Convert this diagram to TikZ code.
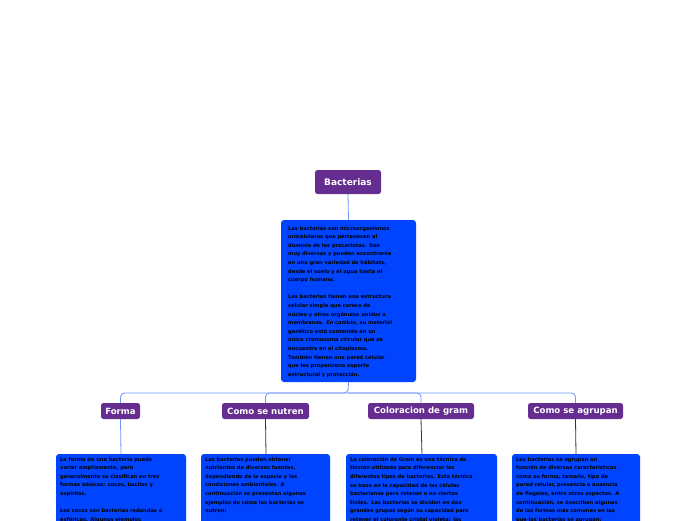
\documentclass[tikz,border=0pt]{standalone}
\usepackage{fontspec}
\setmainfont{DejaVu Sans}
\definecolor{purp}{HTML}{662D91}
\definecolor{blu}{HTML}{0044FF}
\definecolor{lline}{HTML}{6E95FF}
\begin{document}
\begin{tikzpicture}[x=1pt,y=-1pt,
  topic/.style={fill=purp,rounded corners=2.5pt,text=white,font=\bfseries\fontsize{8.6}{9}\selectfont,inner sep=0pt},
  txt/.style={fill=blu,rounded corners=3pt,font=\bfseries\fontsize{5.1}{8.6}\selectfont,align=left,anchor=north west,inner sep=0pt,text=black},
  lb/.style={draw=lline,line width=0.8pt},
  dk/.style={draw=black!80,line width=0.8pt}]
\useasboundingbox (0,0) rectangle (696,520);
\clip (0,0) rectangle (696,520);
% nodes
\node[topic,minimum width=66pt,minimum height=24pt] (root) at (348,182) {\fontsize{9}{10}\selectfont Bacterias};
\node[fill=blu,rounded corners=3pt,minimum width=135pt,minimum height=162pt,inner sep=0pt] (main) at (348.5,301) {};
\node[font=\bfseries\fontsize{5.1}{8.6}\selectfont,align=left,anchor=north west,inner sep=0pt] (maintxt) at (288,226) {Las bacterias son microorganismos\\unicelulares que pertenecen al\\dominio de los procariotas. Son\\muy diversas y pueden encontrarse\\en una gran variedad de hábitats,\\desde el suelo y el agua hasta el\\cuerpo humano.\\[8.6pt]Las bacterias tienen una estructura\\celular simple que carece de\\núcleo y otros orgánulos unidos a\\membranas. En cambio, su material\\genético está contenido en un\\único cromosoma circular que se\\encuentra en el citoplasma.\\También tienen una pared celular\\que les proporciona soporte\\estructural y protección.};
\node[topic,minimum width=39pt,minimum height=16pt] (forma) at (120.5,411) {Forma};
\node[topic,minimum width=87pt,minimum height=16pt] (nutren) at (265.5,411) {Como se nutren};
\node[topic,minimum width=106pt,minimum height=16pt] (gram) at (421,411) {Coloracion de gram};
\node[topic,minimum width=95pt,minimum height=16pt] (agrupan) at (575.5,411) {Como se agrupan};
% bottom boxes
\fill[blu,rounded corners=3pt] (56,454) rectangle (186,560);
\fill[blu,rounded corners=3pt] (201,454) rectangle (330,560);
\fill[blu,rounded corners=3pt] (346,454) rectangle (497,560);
\fill[blu,rounded corners=3pt] (512,454) rectangle (640,560);
\coordinate (fb) at (121,454);
\coordinate (nb) at (266,454);
\coordinate (gb) at (422,454);
\coordinate (ab) at (576,454);
\node[txt] (ft) at (60,457) {La forma de una bacteria puede\\variar ampliamente, pero\\generalmente se clasifican en tres\\formas básicas: cocos, bacilos y\\espirilos.\\[8.6pt]Los cocos son bacterias redondas o\\esféricas. Algunos ejemplos\\incluyen Streptococcus y};
\node[txt] (nt) at (205,457) {Las bacterias pueden obtener\\nutrientes de diversas fuentes,\\dependiendo de la especie y las\\condiciones ambientales. A\\continuación se presentan algunos\\ejemplos de cómo las bacterias se\\nutren:\\[8.6pt]Autótrofas: Algunas bacterias son};
\node[txt] (gt) at (350,457) {La coloración de Gram es una técnica de\\tinción utilizada para diferenciar los\\diferentes tipos de bacterias. Esta técnica\\se basa en la capacidad de las células\\bacterianas para retener o no ciertos\\tintes. Las bacterias se dividen en dos\\grandes grupos según su capacidad para\\retener el colorante cristal violeta: las\\Gram-positivas y las Gram-negativas.};
\node[txt] (at) at (516,457) {Las bacterias se agrupan en\\función de diversas características\\como su forma, tamaño, tipo de\\pared celular, presencia o ausencia\\de flagelos, entre otros aspectos. A\\continuación, se describen algunas\\de las formas más comunes en las\\que las bacterias se agrupan:};
% connectors
\draw[lb] (root.south) -- (main.north);
\draw[lb,rounded corners=4pt] (main.south) -- (348,393) -| (forma.north);
\draw[lb,rounded corners=4pt] (348,393) -| (nutren.north);
\draw[lb,rounded corners=4pt] (348,393) -| (gram.north);
\draw[lb,rounded corners=4pt] (348,393) -| (agrupan.north);
\draw[lb] (forma.south) -- (fb);
\draw[dk] (nutren.south) -- (nb);
\draw[dk] (gram.south) -- (gb);
\draw[dk] (agrupan.south) -- (ab);
\end{tikzpicture}
\end{document}
